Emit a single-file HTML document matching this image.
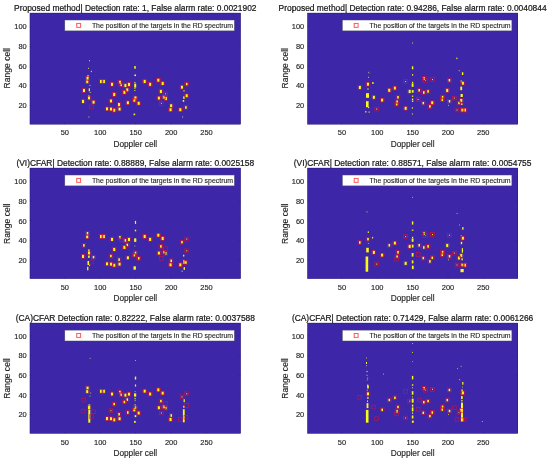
<!DOCTYPE html>
<html lang="en"><head><meta charset="utf-8"><title>RD spectrum detection comparison</title>
<style>html,body{margin:0;padding:0;background:#fff}svg{display:block}text{font-family:"Liberation Sans",Arial,sans-serif;fill:#262626}</style></head><body>
<svg width="550" height="461" viewBox="0 0 550 461">
<defs><filter id="b" x="-5%" y="-5%" width="110%" height="110%"><feGaussianBlur stdDeviation="0.35"/></filter></defs>
<rect width="550" height="461" fill="#fff"/>
<g>
<rect x="29.8" y="12.9" width="211.0" height="111.5" fill="#3e26a8"/>
<text x="135.3" y="10.6" font-size="8.42" text-anchor="middle" fill="#000" stroke="#000" stroke-width="0.2">Proposed method| Detection rate: 1, False alarm rate: 0.0021902</text>
<rect x="64.60" y="122.4" width="0.5" height="2" fill="#262626" opacity="0.55"/><rect x="64.60" y="12.9" width="0.5" height="2" fill="#262626" opacity="0.55"/>
<text x="64.8" y="135.4" font-size="7.45" text-anchor="middle" stroke="#262626" stroke-width="0.15">50</text>
<rect x="100.00" y="122.4" width="0.5" height="2" fill="#262626" opacity="0.55"/><rect x="100.00" y="12.9" width="0.5" height="2" fill="#262626" opacity="0.55"/>
<text x="100.3" y="135.4" font-size="7.45" text-anchor="middle" stroke="#262626" stroke-width="0.15">100</text>
<rect x="135.40" y="122.4" width="0.5" height="2" fill="#262626" opacity="0.55"/><rect x="135.40" y="12.9" width="0.5" height="2" fill="#262626" opacity="0.55"/>
<text x="135.7" y="135.4" font-size="7.45" text-anchor="middle" stroke="#262626" stroke-width="0.15">150</text>
<rect x="170.81" y="122.4" width="0.5" height="2" fill="#262626" opacity="0.55"/><rect x="170.81" y="12.9" width="0.5" height="2" fill="#262626" opacity="0.55"/>
<text x="171.1" y="135.4" font-size="7.45" text-anchor="middle" stroke="#262626" stroke-width="0.15">200</text>
<rect x="206.21" y="122.4" width="0.5" height="2" fill="#262626" opacity="0.55"/><rect x="206.21" y="12.9" width="0.5" height="2" fill="#262626" opacity="0.55"/>
<text x="206.5" y="135.4" font-size="7.45" text-anchor="middle" stroke="#262626" stroke-width="0.15">250</text>
<rect x="29.8" y="105.17" width="2" height="0.5" fill="#262626" opacity="0.55"/><rect x="238.8" y="105.17" width="2" height="0.5" fill="#262626" opacity="0.55"/>
<text x="26.7" y="108.1" font-size="7.45" text-anchor="end" stroke="#262626" stroke-width="0.15">20</text>
<rect x="29.8" y="85.49" width="2" height="0.5" fill="#262626" opacity="0.55"/><rect x="238.8" y="85.49" width="2" height="0.5" fill="#262626" opacity="0.55"/>
<text x="26.7" y="88.4" font-size="7.45" text-anchor="end" stroke="#262626" stroke-width="0.15">40</text>
<rect x="29.8" y="65.81" width="2" height="0.5" fill="#262626" opacity="0.55"/><rect x="238.8" y="65.81" width="2" height="0.5" fill="#262626" opacity="0.55"/>
<text x="26.7" y="68.8" font-size="7.45" text-anchor="end" stroke="#262626" stroke-width="0.15">60</text>
<rect x="29.8" y="46.13" width="2" height="0.5" fill="#262626" opacity="0.55"/><rect x="238.8" y="46.13" width="2" height="0.5" fill="#262626" opacity="0.55"/>
<text x="26.7" y="49.1" font-size="7.45" text-anchor="end" stroke="#262626" stroke-width="0.15">80</text>
<rect x="29.8" y="26.45" width="2" height="0.5" fill="#262626" opacity="0.55"/><rect x="238.8" y="26.45" width="2" height="0.5" fill="#262626" opacity="0.55"/>
<text x="26.7" y="29.4" font-size="7.45" text-anchor="end" stroke="#262626" stroke-width="0.15">100</text>
<text x="135.3" y="146.5" font-size="8.3" text-anchor="middle" stroke="#262626" stroke-width="0.15">Doppler cell</text>
<text transform="translate(10.2,68.2) rotate(-90)" font-size="8.55" text-anchor="middle" stroke="#262626" stroke-width="0.15">Range cell</text>
<g fill="#f9fb15" filter="url(#b)"><rect x="86.5" y="76.6" width="2.1" height="3.3"/><rect x="86.2" y="80.1" width="2.1" height="3.3"/><rect x="100.0" y="79.9" width="2.1" height="3.3"/><rect x="102.8" y="79.9" width="2.1" height="3.3"/><rect x="111.0" y="82.6" width="2.1" height="3.3"/><rect x="118.9" y="80.6" width="2.1" height="3.3"/><rect x="120.4" y="83.5" width="1.6" height="2.6"/><rect x="124.4" y="83.8" width="2.1" height="3.3"/><rect x="127.9" y="82.8" width="2.1" height="3.3"/><rect x="82.9" y="88.8" width="2.1" height="3.3"/><rect x="126.2" y="88.2" width="2.1" height="3.3"/><rect x="123.4" y="90.6" width="2.1" height="3.3"/><rect x="113.2" y="92.8" width="2.1" height="3.3"/><rect x="88.0" y="96.3" width="2.1" height="3.3"/><rect x="82.0" y="99.8" width="2.1" height="3.3"/><rect x="92.5" y="100.5" width="2.1" height="3.3"/><rect x="109.9" y="99.3" width="2.1" height="3.3"/><rect x="126.8" y="101.1" width="2.1" height="3.3"/><rect x="118.0" y="102.9" width="2.1" height="3.3"/><rect x="106.0" y="107.2" width="2.1" height="3.3"/><rect x="110.0" y="107.4" width="2.1" height="3.3"/><rect x="113.2" y="108.5" width="2.1" height="3.3"/><rect x="118.5" y="107.4" width="2.1" height="3.3"/><rect x="143.6" y="79.8" width="2.1" height="3.3"/><rect x="149.1" y="82.6" width="2.1" height="3.3"/><rect x="157.3" y="78.5" width="2.1" height="3.3"/><rect x="161.6" y="81.8" width="2.1" height="3.3"/><rect x="185.9" y="82.8" width="1.6" height="2.6"/><rect x="180.9" y="85.5" width="2.1" height="3.3"/><rect x="159.8" y="89.8" width="2.1" height="3.3"/><rect x="165.1" y="93.3" width="1.0" height="1.0"/><rect x="185.6" y="94.1" width="2.1" height="3.3"/><rect x="157.8" y="96.4" width="2.1" height="3.3"/><rect x="162.8" y="95.5" width="2.1" height="3.3"/><rect x="164.8" y="96.8" width="2.1" height="3.3"/><rect x="134.4" y="96.2" width="2.1" height="3.3"/><rect x="133.3" y="98.5" width="2.1" height="3.3"/><rect x="137.6" y="101.6" width="2.1" height="3.3"/><rect x="160.9" y="102.8" width="1.0" height="1.0"/><rect x="170.1" y="104.1" width="2.1" height="3.3"/><rect x="169.5" y="108.1" width="2.1" height="3.3"/><rect x="179.3" y="108.1" width="2.1" height="3.3"/><rect x="185.1" y="106.2" width="1.6" height="2.6"/><rect x="89.0" y="60.1" width="0.8" height="1.2"/><rect x="88.0" y="67.8" width="0.8" height="1.0"/><rect x="90.9" y="70.7" width="0.8" height="1.4"/><rect x="134.2" y="66.1" width="1.6" height="2.6"/><rect x="88.5" y="116.5" width="0.8" height="1.0"/><rect x="182.3" y="116.5" width="0.8" height="1.0"/><rect x="89.6" y="84.9" width="0.8" height="1.0"/><rect x="88.7" y="88.3" width="1.2" height="3.0"/><rect x="89.8" y="92.1" width="0.8" height="1.0"/><rect x="88.5" y="95.0" width="0.8" height="1.0"/><rect x="87.3" y="75.2" width="1.4" height="1.6"/><rect x="134.4" y="74.5" width="1.6" height="1.6"/><rect x="134.4" y="81.9" width="1.0" height="1.0"/><rect x="134.2" y="83.6" width="2.0" height="4.0"/><rect x="134.4" y="87.9" width="1.0" height="1.0"/><rect x="134.4" y="90.0" width="1.0" height="1.0"/><rect x="133.6" y="113.6" width="1.6" height="1.6"/><rect x="183.5" y="90.1" width="1.0" height="1.4"/><rect x="183.2" y="96.4" width="1.6" height="2.4"/><rect x="182.8" y="100.0" width="1.4" height="1.8"/></g>
<g fill="none" stroke="#e2102c" stroke-width="0.6" opacity="0.9"><rect x="85.6" y="76.4" width="3.8" height="3.8"/><rect x="85.3" y="79.9" width="3.8" height="3.8"/><rect x="99.2" y="79.7" width="3.8" height="3.8"/><rect x="101.9" y="79.7" width="3.8" height="3.8"/><rect x="110.1" y="82.4" width="3.8" height="3.8"/><rect x="118.0" y="80.4" width="3.8" height="3.8"/><rect x="119.3" y="82.9" width="3.8" height="3.8"/><rect x="123.5" y="83.5" width="3.8" height="3.8"/><rect x="127.0" y="82.5" width="3.8" height="3.8"/><rect x="82.0" y="88.5" width="3.8" height="3.8"/><rect x="125.4" y="88.0" width="3.8" height="3.8"/><rect x="122.5" y="90.4" width="3.8" height="3.8"/><rect x="112.3" y="92.5" width="3.8" height="3.8"/><rect x="87.2" y="96.1" width="3.8" height="3.8"/><rect x="81.2" y="99.5" width="3.8" height="3.8"/><rect x="91.6" y="100.3" width="3.8" height="3.8"/><rect x="109.0" y="99.1" width="3.8" height="3.8"/><rect x="125.9" y="100.9" width="3.8" height="3.8"/><rect x="117.2" y="102.7" width="3.8" height="3.8"/><rect x="89.6" y="105.1" width="3.8" height="3.8"/><rect x="105.2" y="107.0" width="3.8" height="3.8"/><rect x="109.2" y="107.2" width="3.8" height="3.8"/><rect x="112.3" y="108.3" width="3.8" height="3.8"/><rect x="117.7" y="107.2" width="3.8" height="3.8"/><rect x="142.8" y="79.5" width="3.8" height="3.8"/><rect x="148.3" y="82.4" width="3.8" height="3.8"/><rect x="156.5" y="78.3" width="3.8" height="3.8"/><rect x="160.8" y="81.5" width="3.8" height="3.8"/><rect x="184.8" y="82.2" width="3.8" height="3.8"/><rect x="180.1" y="85.3" width="3.8" height="3.8"/><rect x="159.0" y="89.5" width="3.8" height="3.8"/><rect x="163.7" y="91.9" width="3.8" height="3.8"/><rect x="184.8" y="93.9" width="3.8" height="3.8"/><rect x="157.0" y="96.2" width="3.8" height="3.8"/><rect x="161.9" y="95.3" width="3.8" height="3.8"/><rect x="163.9" y="96.5" width="3.8" height="3.8"/><rect x="133.6" y="96.0" width="3.8" height="3.8"/><rect x="132.5" y="98.3" width="3.8" height="3.8"/><rect x="136.8" y="101.4" width="3.8" height="3.8"/><rect x="159.5" y="101.4" width="3.8" height="3.8"/><rect x="169.3" y="103.9" width="3.8" height="3.8"/><rect x="168.7" y="107.9" width="3.8" height="3.8"/><rect x="178.5" y="107.9" width="3.8" height="3.8"/><rect x="184.0" y="105.6" width="3.8" height="3.8"/></g>
<rect x="30.0" y="13.1" width="210.6" height="111.1" fill="none" stroke="#1a1050" stroke-width="0.4" opacity="0.6"/>
<rect x="64.8" y="20.0" width="169.6" height="10.9" fill="#fff" stroke="#4a4a6a" stroke-width="0.5"/>
<rect x="76.70" y="23.45" width="3.9" height="3.9" fill="none" stroke="#ff5a5a" stroke-width="1.0"/>
<text x="91.9" y="28.1" font-size="6.93" fill="#000" stroke="#000" stroke-width="0.1">The position of the targets in the RD spectrum</text>
</g>
<g>
<rect x="307.3" y="12.9" width="210.7" height="111.5" fill="#3e26a8"/>
<text x="412.6" y="10.6" font-size="8.42" text-anchor="middle" fill="#000" stroke="#000" stroke-width="0.2">Proposed method| Detection rate: 0.94286, False alarm rate: 0.0040844</text>
<rect x="341.65" y="122.4" width="0.5" height="2" fill="#262626" opacity="0.55"/><rect x="341.65" y="12.9" width="0.5" height="2" fill="#262626" opacity="0.55"/>
<text x="341.9" y="135.4" font-size="7.45" text-anchor="middle" stroke="#262626" stroke-width="0.15">50</text>
<rect x="377.00" y="122.4" width="0.5" height="2" fill="#262626" opacity="0.55"/><rect x="377.00" y="12.9" width="0.5" height="2" fill="#262626" opacity="0.55"/>
<text x="377.3" y="135.4" font-size="7.45" text-anchor="middle" stroke="#262626" stroke-width="0.15">100</text>
<rect x="412.35" y="122.4" width="0.5" height="2" fill="#262626" opacity="0.55"/><rect x="412.35" y="12.9" width="0.5" height="2" fill="#262626" opacity="0.55"/>
<text x="412.6" y="135.4" font-size="7.45" text-anchor="middle" stroke="#262626" stroke-width="0.15">150</text>
<rect x="447.71" y="122.4" width="0.5" height="2" fill="#262626" opacity="0.55"/><rect x="447.71" y="12.9" width="0.5" height="2" fill="#262626" opacity="0.55"/>
<text x="448.0" y="135.4" font-size="7.45" text-anchor="middle" stroke="#262626" stroke-width="0.15">200</text>
<rect x="483.06" y="122.4" width="0.5" height="2" fill="#262626" opacity="0.55"/><rect x="483.06" y="12.9" width="0.5" height="2" fill="#262626" opacity="0.55"/>
<text x="483.3" y="135.4" font-size="7.45" text-anchor="middle" stroke="#262626" stroke-width="0.15">250</text>
<rect x="307.3" y="105.17" width="2" height="0.5" fill="#262626" opacity="0.55"/><rect x="516.0" y="105.17" width="2" height="0.5" fill="#262626" opacity="0.55"/>
<text x="304.2" y="108.1" font-size="7.45" text-anchor="end" stroke="#262626" stroke-width="0.15">20</text>
<rect x="307.3" y="85.49" width="2" height="0.5" fill="#262626" opacity="0.55"/><rect x="516.0" y="85.49" width="2" height="0.5" fill="#262626" opacity="0.55"/>
<text x="304.2" y="88.4" font-size="7.45" text-anchor="end" stroke="#262626" stroke-width="0.15">40</text>
<rect x="307.3" y="65.81" width="2" height="0.5" fill="#262626" opacity="0.55"/><rect x="516.0" y="65.81" width="2" height="0.5" fill="#262626" opacity="0.55"/>
<text x="304.2" y="68.8" font-size="7.45" text-anchor="end" stroke="#262626" stroke-width="0.15">60</text>
<rect x="307.3" y="46.13" width="2" height="0.5" fill="#262626" opacity="0.55"/><rect x="516.0" y="46.13" width="2" height="0.5" fill="#262626" opacity="0.55"/>
<text x="304.2" y="49.1" font-size="7.45" text-anchor="end" stroke="#262626" stroke-width="0.15">80</text>
<rect x="307.3" y="26.45" width="2" height="0.5" fill="#262626" opacity="0.55"/><rect x="516.0" y="26.45" width="2" height="0.5" fill="#262626" opacity="0.55"/>
<text x="304.2" y="29.4" font-size="7.45" text-anchor="end" stroke="#262626" stroke-width="0.15">100</text>
<text x="412.6" y="146.5" font-size="8.3" text-anchor="middle" stroke="#262626" stroke-width="0.15">Doppler cell</text>
<text transform="translate(287.7,68.2) rotate(-90)" font-size="8.55" text-anchor="middle" stroke="#262626" stroke-width="0.15">Range cell</text>
<g fill="#f9fb15" filter="url(#b)"><rect x="358.8" y="85.8" width="2.1" height="3.3"/><rect x="366.9" y="82.5" width="2.1" height="3.3"/><rect x="372.8" y="95.6" width="2.1" height="3.3"/><rect x="381.1" y="98.4" width="2.1" height="3.3"/><rect x="376.2" y="108.6" width="1.0" height="1.0"/><rect x="388.2" y="88.6" width="2.1" height="3.3"/><rect x="393.8" y="86.4" width="2.1" height="3.3"/><rect x="405.1" y="81.1" width="1.0" height="1.0"/><rect x="397.2" y="96.0" width="1.6" height="2.6"/><rect x="396.3" y="100.4" width="1.6" height="2.6"/><rect x="395.9" y="102.9" width="1.6" height="2.6"/><rect x="404.6" y="106.6" width="2.1" height="3.3"/><rect x="408.6" y="89.8" width="2.1" height="3.3"/><rect x="423.3" y="77.2" width="1.6" height="2.6"/><rect x="425.0" y="80.0" width="1.0" height="1.0"/><rect x="432.0" y="79.1" width="1.0" height="1.0"/><rect x="448.6" y="79.0" width="1.6" height="2.6"/><rect x="418.4" y="89.0" width="1.6" height="2.6"/><rect x="423.0" y="91.2" width="1.6" height="2.6"/><rect x="427.3" y="90.1" width="1.6" height="2.6"/><rect x="446.2" y="88.8" width="2.1" height="3.3"/><rect x="417.6" y="99.0" width="1.0" height="1.0"/><rect x="422.5" y="101.8" width="1.6" height="2.6"/><rect x="431.2" y="101.1" width="2.1" height="3.3"/><rect x="429.1" y="105.1" width="1.6" height="2.6"/><rect x="441.8" y="95.8" width="1.6" height="2.6"/><rect x="441.5" y="98.5" width="1.6" height="2.6"/><rect x="448.7" y="100.0" width="1.6" height="2.6"/><rect x="453.8" y="97.6" width="1.0" height="1.0"/><rect x="458.2" y="101.7" width="1.6" height="2.6"/><rect x="460.2" y="98.9" width="2.1" height="3.3"/><rect x="456.5" y="109.5" width="1.0" height="1.0"/><rect x="461.4" y="108.4" width="2.1" height="3.3"/><rect x="463.9" y="108.4" width="2.1" height="3.3"/><rect x="461.8" y="81.5" width="2.1" height="3.3"/><rect x="412.2" y="42.5" width="0.8" height="1.0"/><rect x="456.4" y="57.6" width="1.0" height="1.6"/><rect x="411.9" y="66.3" width="1.4" height="3.0"/><rect x="412.0" y="74.2" width="1.2" height="1.4"/><rect x="368.6" y="71.8" width="0.6" height="1.6"/><rect x="458.8" y="70.2" width="0.8" height="1.0"/><rect x="368.0" y="76.8" width="0.8" height="1.0"/><rect x="372.1" y="82.2" width="1.6" height="1.6"/><rect x="367.5" y="88.3" width="1.0" height="1.4"/><rect x="366.0" y="93.2" width="3.0" height="4.6"/><rect x="366.0" y="101.2" width="2.6" height="6.0"/><rect x="368.0" y="106.9" width="1.2" height="1.2"/><rect x="365.2" y="111.1" width="1.2" height="1.4"/><rect x="368.6" y="111.5" width="1.0" height="1.2"/><rect x="412.0" y="81.8" width="1.2" height="1.2"/><rect x="411.7" y="83.3" width="1.8" height="3.6"/><rect x="411.6" y="90.1" width="2.0" height="2.6"/><rect x="411.9" y="95.6" width="1.4" height="1.2"/><rect x="411.9" y="98.6" width="1.4" height="1.4"/><rect x="411.9" y="100.5" width="1.4" height="1.4"/><rect x="411.8" y="107.4" width="1.2" height="1.2"/><rect x="411.9" y="113.5" width="1.0" height="1.0"/><rect x="461.9" y="72.2" width="1.4" height="2.8"/><rect x="460.6" y="80.4" width="1.2" height="1.8"/><rect x="460.3" y="86.6" width="1.8" height="3.6"/><rect x="460.6" y="94.0" width="2.2" height="3.0"/><rect x="460.9" y="103.4" width="1.6" height="1.6"/><rect x="448.2" y="104.9" width="0.8" height="0.8"/></g>
<g fill="none" stroke="#e2102c" stroke-width="0.6" opacity="0.9"><rect x="357.9" y="85.6" width="3.8" height="3.8"/><rect x="366.1" y="82.3" width="3.8" height="3.8"/><rect x="371.9" y="95.4" width="3.8" height="3.8"/><rect x="380.3" y="98.2" width="3.8" height="3.8"/><rect x="374.8" y="107.2" width="3.8" height="3.8"/><rect x="387.4" y="88.4" width="3.8" height="3.8"/><rect x="393.0" y="86.2" width="3.8" height="3.8"/><rect x="403.7" y="79.7" width="3.8" height="3.8"/><rect x="396.1" y="95.4" width="3.8" height="3.8"/><rect x="395.2" y="99.8" width="3.8" height="3.8"/><rect x="394.8" y="102.3" width="3.8" height="3.8"/><rect x="403.7" y="106.4" width="3.8" height="3.8"/><rect x="407.8" y="89.5" width="3.8" height="3.8"/><rect x="422.2" y="76.6" width="3.8" height="3.8"/><rect x="423.6" y="78.6" width="3.8" height="3.8"/><rect x="430.6" y="77.7" width="3.8" height="3.8"/><rect x="447.5" y="78.4" width="3.8" height="3.8"/><rect x="417.3" y="88.4" width="3.8" height="3.8"/><rect x="421.9" y="90.6" width="3.8" height="3.8"/><rect x="426.2" y="89.5" width="3.8" height="3.8"/><rect x="445.4" y="88.5" width="3.8" height="3.8"/><rect x="416.2" y="97.6" width="3.8" height="3.8"/><rect x="421.4" y="101.2" width="3.8" height="3.8"/><rect x="430.4" y="100.9" width="3.8" height="3.8"/><rect x="428.0" y="104.5" width="3.8" height="3.8"/><rect x="440.7" y="95.2" width="3.8" height="3.8"/><rect x="440.4" y="97.9" width="3.8" height="3.8"/><rect x="447.6" y="99.4" width="3.8" height="3.8"/><rect x="452.4" y="96.2" width="3.8" height="3.8"/><rect x="457.1" y="101.1" width="3.8" height="3.8"/><rect x="459.4" y="98.7" width="3.8" height="3.8"/><rect x="455.1" y="108.1" width="3.8" height="3.8"/><rect x="460.6" y="108.2" width="3.8" height="3.8"/><rect x="463.1" y="108.2" width="3.8" height="3.8"/><rect x="460.9" y="81.3" width="3.8" height="3.8"/></g>
<rect x="307.5" y="13.1" width="210.3" height="111.1" fill="none" stroke="#1a1050" stroke-width="0.4" opacity="0.6"/>
<rect x="342.3" y="20.0" width="169.6" height="10.9" fill="#fff" stroke="#4a4a6a" stroke-width="0.5"/>
<rect x="354.20" y="23.45" width="3.9" height="3.9" fill="none" stroke="#ff5a5a" stroke-width="1.0"/>
<text x="369.4" y="28.1" font-size="6.93" fill="#000" stroke="#000" stroke-width="0.1">The position of the targets in the RD spectrum</text>
</g>
<g>
<rect x="29.8" y="167.9" width="211.0" height="110.9" fill="#3e26a8"/>
<text x="135.3" y="165.6" font-size="8.42" text-anchor="middle" fill="#000" stroke="#000" stroke-width="0.2">(VI)CFAR| Detection rate: 0.88889, False alarm rate: 0.0025158</text>
<rect x="64.60" y="276.8" width="0.5" height="2" fill="#262626" opacity="0.55"/><rect x="64.60" y="167.9" width="0.5" height="2" fill="#262626" opacity="0.55"/>
<text x="64.8" y="289.8" font-size="7.45" text-anchor="middle" stroke="#262626" stroke-width="0.15">50</text>
<rect x="100.00" y="276.8" width="0.5" height="2" fill="#262626" opacity="0.55"/><rect x="100.00" y="167.9" width="0.5" height="2" fill="#262626" opacity="0.55"/>
<text x="100.3" y="289.8" font-size="7.45" text-anchor="middle" stroke="#262626" stroke-width="0.15">100</text>
<rect x="135.40" y="276.8" width="0.5" height="2" fill="#262626" opacity="0.55"/><rect x="135.40" y="167.9" width="0.5" height="2" fill="#262626" opacity="0.55"/>
<text x="135.7" y="289.8" font-size="7.45" text-anchor="middle" stroke="#262626" stroke-width="0.15">150</text>
<rect x="170.81" y="276.8" width="0.5" height="2" fill="#262626" opacity="0.55"/><rect x="170.81" y="167.9" width="0.5" height="2" fill="#262626" opacity="0.55"/>
<text x="171.1" y="289.8" font-size="7.45" text-anchor="middle" stroke="#262626" stroke-width="0.15">200</text>
<rect x="206.21" y="276.8" width="0.5" height="2" fill="#262626" opacity="0.55"/><rect x="206.21" y="167.9" width="0.5" height="2" fill="#262626" opacity="0.55"/>
<text x="206.5" y="289.8" font-size="7.45" text-anchor="middle" stroke="#262626" stroke-width="0.15">250</text>
<rect x="29.8" y="259.87" width="2" height="0.5" fill="#262626" opacity="0.55"/><rect x="238.8" y="259.87" width="2" height="0.5" fill="#262626" opacity="0.55"/>
<text x="26.7" y="262.8" font-size="7.45" text-anchor="end" stroke="#262626" stroke-width="0.15">20</text>
<rect x="29.8" y="240.19" width="2" height="0.5" fill="#262626" opacity="0.55"/><rect x="238.8" y="240.19" width="2" height="0.5" fill="#262626" opacity="0.55"/>
<text x="26.7" y="243.1" font-size="7.45" text-anchor="end" stroke="#262626" stroke-width="0.15">40</text>
<rect x="29.8" y="220.51" width="2" height="0.5" fill="#262626" opacity="0.55"/><rect x="238.8" y="220.51" width="2" height="0.5" fill="#262626" opacity="0.55"/>
<text x="26.7" y="223.5" font-size="7.45" text-anchor="end" stroke="#262626" stroke-width="0.15">60</text>
<rect x="29.8" y="200.83" width="2" height="0.5" fill="#262626" opacity="0.55"/><rect x="238.8" y="200.83" width="2" height="0.5" fill="#262626" opacity="0.55"/>
<text x="26.7" y="203.8" font-size="7.45" text-anchor="end" stroke="#262626" stroke-width="0.15">80</text>
<rect x="29.8" y="181.15" width="2" height="0.5" fill="#262626" opacity="0.55"/><rect x="238.8" y="181.15" width="2" height="0.5" fill="#262626" opacity="0.55"/>
<text x="26.7" y="184.1" font-size="7.45" text-anchor="end" stroke="#262626" stroke-width="0.15">100</text>
<text x="135.3" y="300.9" font-size="8.3" text-anchor="middle" stroke="#262626" stroke-width="0.15">Doppler cell</text>
<text transform="translate(10.2,223.7) rotate(-90)" font-size="8.55" text-anchor="middle" stroke="#262626" stroke-width="0.15">Range cell</text>
<g fill="#f9fb15" filter="url(#b)"><rect x="86.7" y="232.0" width="1.6" height="2.6"/><rect x="86.2" y="235.2" width="2.1" height="3.3"/><rect x="100.0" y="234.9" width="2.1" height="3.3"/><rect x="102.8" y="234.9" width="2.1" height="3.3"/><rect x="111.0" y="237.7" width="2.1" height="3.3"/><rect x="119.1" y="236.0" width="1.6" height="2.6"/><rect x="124.6" y="239.1" width="1.6" height="2.6"/><rect x="127.9" y="237.8" width="2.1" height="3.3"/><rect x="83.1" y="244.1" width="1.6" height="2.6"/><rect x="126.5" y="243.6" width="1.6" height="2.6"/><rect x="123.4" y="245.7" width="2.1" height="3.3"/><rect x="113.2" y="247.8" width="2.1" height="3.3"/><rect x="88.0" y="251.3" width="2.1" height="3.3"/><rect x="82.0" y="254.7" width="2.1" height="3.3"/><rect x="92.7" y="255.9" width="1.6" height="2.6"/><rect x="110.1" y="254.7" width="1.6" height="2.6"/><rect x="126.8" y="256.2" width="2.1" height="3.3"/><rect x="118.3" y="258.3" width="1.6" height="2.6"/><rect x="106.0" y="262.2" width="2.1" height="3.3"/><rect x="110.0" y="262.5" width="2.1" height="3.3"/><rect x="113.2" y="263.6" width="2.1" height="3.3"/><rect x="118.5" y="262.5" width="2.1" height="3.3"/><rect x="143.6" y="234.8" width="2.1" height="3.3"/><rect x="149.1" y="237.7" width="2.1" height="3.3"/><rect x="157.3" y="233.5" width="2.1" height="3.3"/><rect x="161.6" y="236.8" width="2.1" height="3.3"/><rect x="186.2" y="238.6" width="1.0" height="1.0"/><rect x="181.2" y="240.9" width="1.6" height="2.6"/><rect x="160.1" y="245.1" width="1.6" height="2.6"/><rect x="186.2" y="250.3" width="1.0" height="1.0"/><rect x="157.8" y="251.4" width="2.1" height="3.3"/><rect x="163.0" y="250.9" width="1.6" height="2.6"/><rect x="165.0" y="252.1" width="1.6" height="2.6"/><rect x="134.7" y="251.6" width="1.6" height="2.6"/><rect x="133.6" y="253.9" width="1.6" height="2.6"/><rect x="137.9" y="257.0" width="1.6" height="2.6"/><rect x="170.4" y="259.5" width="1.6" height="2.6"/><rect x="169.5" y="263.2" width="2.1" height="3.3"/><rect x="179.3" y="263.2" width="2.1" height="3.3"/><rect x="185.1" y="261.2" width="1.6" height="2.6"/><rect x="88.1" y="249.5" width="1.6" height="2.0"/><rect x="88.1" y="255.5" width="1.6" height="2.4"/><rect x="87.5" y="261.0" width="1.5" height="4.0"/><rect x="89.1" y="264.5" width="1.0" height="1.4"/><rect x="87.1" y="266.8" width="1.3" height="3.5"/><rect x="134.9" y="220.9" width="1.2" height="3.0"/><rect x="134.8" y="229.7" width="1.4" height="1.6"/><rect x="134.1" y="238.3" width="2.2" height="3.6"/><rect x="134.5" y="245.6" width="0.8" height="0.8"/><rect x="133.5" y="266.3" width="2.4" height="3.4"/><rect x="183.1" y="254.7" width="1.2" height="1.8"/><rect x="183.2" y="259.9" width="1.6" height="4.0"/><rect x="183.6" y="267.2" width="1.4" height="2.6"/><rect x="181.6" y="270.7" width="1.0" height="1.0"/></g>
<g fill="none" stroke="#e2102c" stroke-width="0.6" opacity="0.9"><rect x="85.6" y="231.4" width="3.8" height="3.8"/><rect x="85.3" y="234.9" width="3.8" height="3.8"/><rect x="99.2" y="234.7" width="3.8" height="3.8"/><rect x="101.9" y="234.7" width="3.8" height="3.8"/><rect x="110.1" y="237.4" width="3.8" height="3.8"/><rect x="118.0" y="235.4" width="3.8" height="3.8"/><rect x="119.3" y="237.9" width="3.8" height="3.8"/><rect x="123.5" y="238.5" width="3.8" height="3.8"/><rect x="127.0" y="237.5" width="3.8" height="3.8"/><rect x="82.0" y="243.5" width="3.8" height="3.8"/><rect x="125.4" y="243.0" width="3.8" height="3.8"/><rect x="122.5" y="245.4" width="3.8" height="3.8"/><rect x="112.3" y="247.5" width="3.8" height="3.8"/><rect x="87.2" y="251.1" width="3.8" height="3.8"/><rect x="81.2" y="254.5" width="3.8" height="3.8"/><rect x="91.6" y="255.3" width="3.8" height="3.8"/><rect x="109.0" y="254.1" width="3.8" height="3.8"/><rect x="125.9" y="255.9" width="3.8" height="3.8"/><rect x="117.2" y="257.7" width="3.8" height="3.8"/><rect x="89.6" y="260.1" width="3.8" height="3.8"/><rect x="105.2" y="262.0" width="3.8" height="3.8"/><rect x="109.2" y="262.2" width="3.8" height="3.8"/><rect x="112.3" y="263.3" width="3.8" height="3.8"/><rect x="117.7" y="262.2" width="3.8" height="3.8"/><rect x="142.8" y="234.5" width="3.8" height="3.8"/><rect x="148.3" y="237.4" width="3.8" height="3.8"/><rect x="156.5" y="233.3" width="3.8" height="3.8"/><rect x="160.8" y="236.5" width="3.8" height="3.8"/><rect x="184.8" y="237.2" width="3.8" height="3.8"/><rect x="180.1" y="240.3" width="3.8" height="3.8"/><rect x="159.0" y="244.5" width="3.8" height="3.8"/><rect x="163.7" y="246.9" width="3.8" height="3.8"/><rect x="184.8" y="248.9" width="3.8" height="3.8"/><rect x="157.0" y="251.2" width="3.8" height="3.8"/><rect x="161.9" y="250.3" width="3.8" height="3.8"/><rect x="163.9" y="251.5" width="3.8" height="3.8"/><rect x="133.6" y="251.0" width="3.8" height="3.8"/><rect x="132.5" y="253.3" width="3.8" height="3.8"/><rect x="136.8" y="256.4" width="3.8" height="3.8"/><rect x="159.5" y="256.4" width="3.8" height="3.8"/><rect x="169.3" y="258.9" width="3.8" height="3.8"/><rect x="168.7" y="262.9" width="3.8" height="3.8"/><rect x="178.5" y="262.9" width="3.8" height="3.8"/><rect x="184.0" y="260.6" width="3.8" height="3.8"/></g>
<rect x="30.0" y="168.1" width="210.6" height="110.5" fill="none" stroke="#1a1050" stroke-width="0.4" opacity="0.6"/>
<rect x="64.8" y="175.0" width="169.6" height="10.9" fill="#fff" stroke="#4a4a6a" stroke-width="0.5"/>
<rect x="76.70" y="178.45" width="3.9" height="3.9" fill="none" stroke="#ff5a5a" stroke-width="1.0"/>
<text x="91.9" y="183.1" font-size="6.93" fill="#000" stroke="#000" stroke-width="0.1">The position of the targets in the RD spectrum</text>
</g>
<g>
<rect x="307.3" y="167.9" width="210.7" height="110.9" fill="#3e26a8"/>
<text x="412.6" y="165.6" font-size="8.42" text-anchor="middle" fill="#000" stroke="#000" stroke-width="0.2">(VI)CFAR| Detection rate: 0.88571, False alarm rate: 0.0054755</text>
<rect x="341.65" y="276.8" width="0.5" height="2" fill="#262626" opacity="0.55"/><rect x="341.65" y="167.9" width="0.5" height="2" fill="#262626" opacity="0.55"/>
<text x="341.9" y="289.8" font-size="7.45" text-anchor="middle" stroke="#262626" stroke-width="0.15">50</text>
<rect x="377.00" y="276.8" width="0.5" height="2" fill="#262626" opacity="0.55"/><rect x="377.00" y="167.9" width="0.5" height="2" fill="#262626" opacity="0.55"/>
<text x="377.3" y="289.8" font-size="7.45" text-anchor="middle" stroke="#262626" stroke-width="0.15">100</text>
<rect x="412.35" y="276.8" width="0.5" height="2" fill="#262626" opacity="0.55"/><rect x="412.35" y="167.9" width="0.5" height="2" fill="#262626" opacity="0.55"/>
<text x="412.6" y="289.8" font-size="7.45" text-anchor="middle" stroke="#262626" stroke-width="0.15">150</text>
<rect x="447.71" y="276.8" width="0.5" height="2" fill="#262626" opacity="0.55"/><rect x="447.71" y="167.9" width="0.5" height="2" fill="#262626" opacity="0.55"/>
<text x="448.0" y="289.8" font-size="7.45" text-anchor="middle" stroke="#262626" stroke-width="0.15">200</text>
<rect x="483.06" y="276.8" width="0.5" height="2" fill="#262626" opacity="0.55"/><rect x="483.06" y="167.9" width="0.5" height="2" fill="#262626" opacity="0.55"/>
<text x="483.3" y="289.8" font-size="7.45" text-anchor="middle" stroke="#262626" stroke-width="0.15">250</text>
<rect x="307.3" y="259.87" width="2" height="0.5" fill="#262626" opacity="0.55"/><rect x="516.0" y="259.87" width="2" height="0.5" fill="#262626" opacity="0.55"/>
<text x="304.2" y="262.8" font-size="7.45" text-anchor="end" stroke="#262626" stroke-width="0.15">20</text>
<rect x="307.3" y="240.19" width="2" height="0.5" fill="#262626" opacity="0.55"/><rect x="516.0" y="240.19" width="2" height="0.5" fill="#262626" opacity="0.55"/>
<text x="304.2" y="243.1" font-size="7.45" text-anchor="end" stroke="#262626" stroke-width="0.15">40</text>
<rect x="307.3" y="220.51" width="2" height="0.5" fill="#262626" opacity="0.55"/><rect x="516.0" y="220.51" width="2" height="0.5" fill="#262626" opacity="0.55"/>
<text x="304.2" y="223.5" font-size="7.45" text-anchor="end" stroke="#262626" stroke-width="0.15">60</text>
<rect x="307.3" y="200.83" width="2" height="0.5" fill="#262626" opacity="0.55"/><rect x="516.0" y="200.83" width="2" height="0.5" fill="#262626" opacity="0.55"/>
<text x="304.2" y="203.8" font-size="7.45" text-anchor="end" stroke="#262626" stroke-width="0.15">80</text>
<rect x="307.3" y="181.15" width="2" height="0.5" fill="#262626" opacity="0.55"/><rect x="516.0" y="181.15" width="2" height="0.5" fill="#262626" opacity="0.55"/>
<text x="304.2" y="184.1" font-size="7.45" text-anchor="end" stroke="#262626" stroke-width="0.15">100</text>
<text x="412.6" y="300.9" font-size="8.3" text-anchor="middle" stroke="#262626" stroke-width="0.15">Doppler cell</text>
<text transform="translate(287.7,223.7) rotate(-90)" font-size="8.55" text-anchor="middle" stroke="#262626" stroke-width="0.15">Range cell</text>
<g fill="#f9fb15" filter="url(#b)"><rect x="359.0" y="241.2" width="1.6" height="2.6"/><rect x="367.2" y="237.9" width="1.6" height="2.6"/><rect x="372.8" y="250.7" width="2.1" height="3.3"/><rect x="381.1" y="253.4" width="2.1" height="3.3"/><rect x="376.2" y="263.6" width="1.0" height="1.0"/><rect x="388.5" y="244.0" width="1.6" height="2.6"/><rect x="393.8" y="241.4" width="2.1" height="3.3"/><rect x="405.1" y="236.1" width="1.0" height="1.0"/><rect x="397.2" y="251.0" width="1.6" height="2.6"/><rect x="396.3" y="255.4" width="1.6" height="2.6"/><rect x="404.6" y="261.7" width="2.1" height="3.3"/><rect x="408.6" y="244.8" width="2.1" height="3.3"/><rect x="423.3" y="232.2" width="1.6" height="2.6"/><rect x="425.0" y="235.0" width="1.0" height="1.0"/><rect x="432.0" y="234.1" width="1.0" height="1.0"/><rect x="448.9" y="234.8" width="1.0" height="1.0"/><rect x="418.4" y="244.0" width="1.6" height="2.6"/><rect x="423.0" y="246.2" width="1.6" height="2.6"/><rect x="427.3" y="245.1" width="1.6" height="2.6"/><rect x="446.2" y="243.8" width="2.1" height="3.3"/><rect x="422.5" y="256.8" width="1.6" height="2.6"/><rect x="431.5" y="256.5" width="1.6" height="2.6"/><rect x="429.1" y="260.1" width="1.6" height="2.6"/><rect x="441.8" y="250.8" width="1.6" height="2.6"/><rect x="441.5" y="253.5" width="1.6" height="2.6"/><rect x="448.7" y="255.0" width="1.6" height="2.6"/><rect x="453.8" y="252.6" width="1.0" height="1.0"/><rect x="457.9" y="256.4" width="2.1" height="3.3"/><rect x="460.2" y="253.9" width="2.1" height="3.3"/><rect x="456.5" y="264.5" width="1.0" height="1.0"/><rect x="461.7" y="263.8" width="1.6" height="2.6"/><rect x="463.9" y="263.5" width="2.1" height="3.3"/><rect x="461.8" y="236.5" width="2.1" height="3.3"/><rect x="367.7" y="231.6" width="1.2" height="1.2"/><rect x="372.1" y="236.9" width="1.0" height="1.6"/><rect x="367.9" y="243.0" width="0.8" height="0.8"/><rect x="366.2" y="247.8" width="2.6" height="4.6"/><rect x="365.6" y="256.5" width="2.6" height="15.200000000000003"/><rect x="404.4" y="184.8" width="0.8" height="0.8"/><rect x="412.2" y="196.9" width="0.8" height="0.8"/><rect x="366.6" y="211.4" width="0.8" height="1.0"/><rect x="456.7" y="213.2" width="0.8" height="0.8"/><rect x="411.9" y="221.4" width="1.4" height="3.2"/><rect x="411.8" y="229.6" width="1.6" height="1.2"/><rect x="459.0" y="224.6" width="0.8" height="0.8"/><rect x="368.0" y="231.6" width="0.8" height="0.8"/><rect x="412.0" y="236.8" width="1.2" height="1.2"/><rect x="411.7" y="238.4" width="1.8" height="3.4"/><rect x="411.7" y="244.6" width="1.8" height="3.0"/><rect x="411.7" y="253.0" width="1.8" height="3.6"/><rect x="411.8" y="260.4" width="1.6" height="3.0"/><rect x="411.9" y="265.7" width="1.8" height="3.4"/><rect x="462.2" y="227.1" width="1.3" height="2.6"/><rect x="460.7" y="235.2" width="0.8" height="0.8"/><rect x="460.8" y="241.8" width="1.4" height="2.4"/><rect x="461.8" y="248.2" width="1.2" height="4.5"/><rect x="461.4" y="258.3" width="1.4" height="2.0"/><rect x="461.5" y="263.2" width="1.2" height="2.5"/><rect x="460.5" y="269.0" width="3.2" height="3.2"/><rect x="448.1" y="259.5" width="0.8" height="0.8"/></g>
<g fill="none" stroke="#e2102c" stroke-width="0.6" opacity="0.9"><rect x="357.9" y="240.6" width="3.8" height="3.8"/><rect x="366.1" y="237.3" width="3.8" height="3.8"/><rect x="371.9" y="250.4" width="3.8" height="3.8"/><rect x="380.3" y="253.2" width="3.8" height="3.8"/><rect x="374.8" y="262.2" width="3.8" height="3.8"/><rect x="387.4" y="243.4" width="3.8" height="3.8"/><rect x="393.0" y="241.2" width="3.8" height="3.8"/><rect x="403.7" y="234.7" width="3.8" height="3.8"/><rect x="396.1" y="250.4" width="3.8" height="3.8"/><rect x="395.2" y="254.8" width="3.8" height="3.8"/><rect x="394.8" y="257.3" width="3.8" height="3.8"/><rect x="403.7" y="261.4" width="3.8" height="3.8"/><rect x="407.8" y="244.5" width="3.8" height="3.8"/><rect x="422.2" y="231.6" width="3.8" height="3.8"/><rect x="423.6" y="233.6" width="3.8" height="3.8"/><rect x="430.6" y="232.7" width="3.8" height="3.8"/><rect x="447.5" y="233.4" width="3.8" height="3.8"/><rect x="417.3" y="243.4" width="3.8" height="3.8"/><rect x="421.9" y="245.6" width="3.8" height="3.8"/><rect x="426.2" y="244.5" width="3.8" height="3.8"/><rect x="445.4" y="243.5" width="3.8" height="3.8"/><rect x="416.2" y="252.6" width="3.8" height="3.8"/><rect x="421.4" y="256.2" width="3.8" height="3.8"/><rect x="430.4" y="255.9" width="3.8" height="3.8"/><rect x="428.0" y="259.5" width="3.8" height="3.8"/><rect x="440.7" y="250.2" width="3.8" height="3.8"/><rect x="440.4" y="252.9" width="3.8" height="3.8"/><rect x="447.6" y="254.4" width="3.8" height="3.8"/><rect x="452.4" y="251.2" width="3.8" height="3.8"/><rect x="457.1" y="256.1" width="3.8" height="3.8"/><rect x="459.4" y="253.7" width="3.8" height="3.8"/><rect x="455.1" y="263.1" width="3.8" height="3.8"/><rect x="460.6" y="263.2" width="3.8" height="3.8"/><rect x="463.1" y="263.2" width="3.8" height="3.8"/><rect x="460.9" y="236.3" width="3.8" height="3.8"/></g>
<rect x="307.5" y="168.1" width="210.3" height="110.5" fill="none" stroke="#1a1050" stroke-width="0.4" opacity="0.6"/>
<rect x="342.3" y="175.0" width="169.6" height="10.9" fill="#fff" stroke="#4a4a6a" stroke-width="0.5"/>
<rect x="354.20" y="178.45" width="3.9" height="3.9" fill="none" stroke="#ff5a5a" stroke-width="1.0"/>
<text x="369.4" y="183.1" font-size="6.93" fill="#000" stroke="#000" stroke-width="0.1">The position of the targets in the RD spectrum</text>
</g>
<g>
<rect x="29.8" y="322.9" width="211.0" height="110.7" fill="#3e26a8"/>
<text x="135.3" y="320.6" font-size="8.42" text-anchor="middle" fill="#000" stroke="#000" stroke-width="0.2">(CA)CFAR Detection rate: 0.82222, False alarm rate: 0.0037588</text>
<rect x="64.60" y="431.6" width="0.5" height="2" fill="#262626" opacity="0.55"/><rect x="64.60" y="322.9" width="0.5" height="2" fill="#262626" opacity="0.55"/>
<text x="64.8" y="444.6" font-size="7.45" text-anchor="middle" stroke="#262626" stroke-width="0.15">50</text>
<rect x="100.00" y="431.6" width="0.5" height="2" fill="#262626" opacity="0.55"/><rect x="100.00" y="322.9" width="0.5" height="2" fill="#262626" opacity="0.55"/>
<text x="100.3" y="444.6" font-size="7.45" text-anchor="middle" stroke="#262626" stroke-width="0.15">100</text>
<rect x="135.40" y="431.6" width="0.5" height="2" fill="#262626" opacity="0.55"/><rect x="135.40" y="322.9" width="0.5" height="2" fill="#262626" opacity="0.55"/>
<text x="135.7" y="444.6" font-size="7.45" text-anchor="middle" stroke="#262626" stroke-width="0.15">150</text>
<rect x="170.81" y="431.6" width="0.5" height="2" fill="#262626" opacity="0.55"/><rect x="170.81" y="322.9" width="0.5" height="2" fill="#262626" opacity="0.55"/>
<text x="171.1" y="444.6" font-size="7.45" text-anchor="middle" stroke="#262626" stroke-width="0.15">200</text>
<rect x="206.21" y="431.6" width="0.5" height="2" fill="#262626" opacity="0.55"/><rect x="206.21" y="322.9" width="0.5" height="2" fill="#262626" opacity="0.55"/>
<text x="206.5" y="444.6" font-size="7.45" text-anchor="middle" stroke="#262626" stroke-width="0.15">250</text>
<rect x="29.8" y="414.42" width="2" height="0.5" fill="#262626" opacity="0.55"/><rect x="238.8" y="414.42" width="2" height="0.5" fill="#262626" opacity="0.55"/>
<text x="26.7" y="417.4" font-size="7.45" text-anchor="end" stroke="#262626" stroke-width="0.15">20</text>
<rect x="29.8" y="394.74" width="2" height="0.5" fill="#262626" opacity="0.55"/><rect x="238.8" y="394.74" width="2" height="0.5" fill="#262626" opacity="0.55"/>
<text x="26.7" y="397.7" font-size="7.45" text-anchor="end" stroke="#262626" stroke-width="0.15">40</text>
<rect x="29.8" y="375.06" width="2" height="0.5" fill="#262626" opacity="0.55"/><rect x="238.8" y="375.06" width="2" height="0.5" fill="#262626" opacity="0.55"/>
<text x="26.7" y="378.0" font-size="7.45" text-anchor="end" stroke="#262626" stroke-width="0.15">60</text>
<rect x="29.8" y="355.38" width="2" height="0.5" fill="#262626" opacity="0.55"/><rect x="238.8" y="355.38" width="2" height="0.5" fill="#262626" opacity="0.55"/>
<text x="26.7" y="358.3" font-size="7.45" text-anchor="end" stroke="#262626" stroke-width="0.15">80</text>
<rect x="29.8" y="335.70" width="2" height="0.5" fill="#262626" opacity="0.55"/><rect x="238.8" y="335.70" width="2" height="0.5" fill="#262626" opacity="0.55"/>
<text x="26.7" y="338.7" font-size="7.45" text-anchor="end" stroke="#262626" stroke-width="0.15">100</text>
<text x="135.3" y="455.7" font-size="8.3" text-anchor="middle" stroke="#262626" stroke-width="0.15">Doppler cell</text>
<text transform="translate(10.2,378.5) rotate(-90)" font-size="8.55" text-anchor="middle" stroke="#262626" stroke-width="0.15">Range cell</text>
<g fill="#f9fb15" filter="url(#b)"><rect x="86.5" y="386.4" width="2.1" height="3.3"/><rect x="86.2" y="389.9" width="2.1" height="3.3"/><rect x="100.0" y="389.6" width="2.1" height="3.3"/><rect x="102.8" y="389.6" width="2.1" height="3.3"/><rect x="111.0" y="392.4" width="2.1" height="3.3"/><rect x="119.1" y="390.7" width="1.6" height="2.6"/><rect x="120.4" y="393.2" width="1.6" height="2.6"/><rect x="124.4" y="393.5" width="2.1" height="3.3"/><rect x="127.9" y="392.5" width="2.1" height="3.3"/><rect x="126.5" y="398.3" width="1.6" height="2.6"/><rect x="123.6" y="400.7" width="1.6" height="2.6"/><rect x="113.4" y="402.8" width="1.6" height="2.6"/><rect x="88.0" y="406.1" width="2.1" height="3.3"/><rect x="110.4" y="410.2" width="1.0" height="1.0"/><rect x="127.0" y="411.2" width="1.6" height="2.6"/><rect x="118.3" y="413.0" width="1.6" height="2.6"/><rect x="106.0" y="417.0" width="2.1" height="3.3"/><rect x="110.0" y="417.1" width="2.1" height="3.3"/><rect x="113.2" y="418.2" width="2.1" height="3.3"/><rect x="118.5" y="417.1" width="2.1" height="3.3"/><rect x="143.6" y="389.5" width="2.1" height="3.3"/><rect x="149.1" y="392.4" width="2.1" height="3.3"/><rect x="157.3" y="388.2" width="2.1" height="3.3"/><rect x="161.6" y="391.5" width="2.1" height="3.3"/><rect x="186.2" y="393.3" width="1.0" height="1.0"/><rect x="181.5" y="396.4" width="1.0" height="1.0"/><rect x="160.1" y="399.8" width="1.6" height="2.6"/><rect x="157.8" y="406.1" width="2.1" height="3.3"/><rect x="162.8" y="405.2" width="2.1" height="3.3"/><rect x="165.0" y="406.8" width="1.6" height="2.6"/><rect x="134.7" y="406.3" width="1.6" height="2.6"/><rect x="133.3" y="408.2" width="2.1" height="3.3"/><rect x="137.6" y="411.4" width="2.1" height="3.3"/><rect x="160.9" y="412.5" width="1.0" height="1.0"/><rect x="170.4" y="414.2" width="1.6" height="2.6"/><rect x="169.5" y="417.9" width="2.1" height="3.3"/><rect x="88.3" y="404.5" width="2.0" height="18.200000000000003"/><rect x="90.3" y="392.6" width="0.8" height="0.8"/><rect x="89.6" y="395.7" width="0.8" height="0.8"/><rect x="89.7" y="357.9" width="0.8" height="0.8"/><rect x="135.1" y="360.0" width="0.8" height="0.8"/><rect x="134.8" y="376.6" width="1.4" height="3.0"/><rect x="134.9" y="384.5" width="1.2" height="2.0"/><rect x="134.7" y="391.3" width="0.8" height="0.8"/><rect x="134.0" y="393.4" width="2.2" height="3.2"/><rect x="134.6" y="397.8" width="1.0" height="1.5"/><rect x="134.7" y="400.2" width="0.8" height="1.0"/><rect x="134.6" y="404.2" width="1.0" height="1.5"/><rect x="134.7" y="415.1" width="1.6" height="2.0"/><rect x="134.1" y="420.9" width="1.6" height="2.0"/><rect x="183.6" y="399.2" width="1.2" height="3.0"/><rect x="183.2" y="405.7" width="1.5" height="2.0"/><rect x="182.9" y="409.2" width="1.8" height="13.099999999999994"/></g>
<g fill="none" stroke="#e2102c" stroke-width="0.6" opacity="0.9"><rect x="85.6" y="386.1" width="3.8" height="3.8"/><rect x="85.3" y="389.6" width="3.8" height="3.8"/><rect x="99.2" y="389.4" width="3.8" height="3.8"/><rect x="101.9" y="389.4" width="3.8" height="3.8"/><rect x="110.1" y="392.1" width="3.8" height="3.8"/><rect x="118.0" y="390.1" width="3.8" height="3.8"/><rect x="119.3" y="392.6" width="3.8" height="3.8"/><rect x="123.5" y="393.2" width="3.8" height="3.8"/><rect x="127.0" y="392.2" width="3.8" height="3.8"/><rect x="82.0" y="398.2" width="3.8" height="3.8"/><rect x="125.4" y="397.7" width="3.8" height="3.8"/><rect x="122.5" y="400.1" width="3.8" height="3.8"/><rect x="112.3" y="402.2" width="3.8" height="3.8"/><rect x="87.2" y="405.8" width="3.8" height="3.8"/><rect x="81.2" y="409.2" width="3.8" height="3.8"/><rect x="91.6" y="410.0" width="3.8" height="3.8"/><rect x="109.0" y="408.8" width="3.8" height="3.8"/><rect x="125.9" y="410.6" width="3.8" height="3.8"/><rect x="117.2" y="412.4" width="3.8" height="3.8"/><rect x="89.6" y="414.8" width="3.8" height="3.8"/><rect x="105.2" y="416.7" width="3.8" height="3.8"/><rect x="109.2" y="416.9" width="3.8" height="3.8"/><rect x="112.3" y="418.0" width="3.8" height="3.8"/><rect x="117.7" y="416.9" width="3.8" height="3.8"/><rect x="142.8" y="389.2" width="3.8" height="3.8"/><rect x="148.3" y="392.1" width="3.8" height="3.8"/><rect x="156.5" y="388.0" width="3.8" height="3.8"/><rect x="160.8" y="391.2" width="3.8" height="3.8"/><rect x="184.8" y="391.9" width="3.8" height="3.8"/><rect x="180.1" y="395.0" width="3.8" height="3.8"/><rect x="159.0" y="399.2" width="3.8" height="3.8"/><rect x="163.7" y="401.6" width="3.8" height="3.8"/><rect x="184.8" y="403.6" width="3.8" height="3.8"/><rect x="157.0" y="405.9" width="3.8" height="3.8"/><rect x="161.9" y="405.0" width="3.8" height="3.8"/><rect x="163.9" y="406.2" width="3.8" height="3.8"/><rect x="133.6" y="405.7" width="3.8" height="3.8"/><rect x="132.5" y="408.0" width="3.8" height="3.8"/><rect x="136.8" y="411.1" width="3.8" height="3.8"/><rect x="159.5" y="411.1" width="3.8" height="3.8"/><rect x="169.3" y="413.6" width="3.8" height="3.8"/><rect x="168.7" y="417.6" width="3.8" height="3.8"/><rect x="178.5" y="417.6" width="3.8" height="3.8"/><rect x="184.0" y="415.3" width="3.8" height="3.8"/></g>
<rect x="30.0" y="323.1" width="210.6" height="110.3" fill="none" stroke="#1a1050" stroke-width="0.4" opacity="0.6"/>
<rect x="64.8" y="330.1" width="169.6" height="10.9" fill="#fff" stroke="#4a4a6a" stroke-width="0.5"/>
<rect x="76.70" y="333.50" width="3.9" height="3.9" fill="none" stroke="#ff5a5a" stroke-width="1.0"/>
<text x="91.9" y="338.1" font-size="6.93" fill="#000" stroke="#000" stroke-width="0.1">The position of the targets in the RD spectrum</text>
</g>
<g>
<rect x="307.3" y="322.9" width="210.7" height="110.7" fill="#3e26a8"/>
<text x="412.6" y="320.6" font-size="8.42" text-anchor="middle" fill="#000" stroke="#000" stroke-width="0.2">(CA)CFAR| Detection rate: 0.71429, False alarm rate: 0.0061266</text>
<rect x="341.65" y="431.6" width="0.5" height="2" fill="#262626" opacity="0.55"/><rect x="341.65" y="322.9" width="0.5" height="2" fill="#262626" opacity="0.55"/>
<text x="341.9" y="444.6" font-size="7.45" text-anchor="middle" stroke="#262626" stroke-width="0.15">50</text>
<rect x="377.00" y="431.6" width="0.5" height="2" fill="#262626" opacity="0.55"/><rect x="377.00" y="322.9" width="0.5" height="2" fill="#262626" opacity="0.55"/>
<text x="377.3" y="444.6" font-size="7.45" text-anchor="middle" stroke="#262626" stroke-width="0.15">100</text>
<rect x="412.35" y="431.6" width="0.5" height="2" fill="#262626" opacity="0.55"/><rect x="412.35" y="322.9" width="0.5" height="2" fill="#262626" opacity="0.55"/>
<text x="412.6" y="444.6" font-size="7.45" text-anchor="middle" stroke="#262626" stroke-width="0.15">150</text>
<rect x="447.71" y="431.6" width="0.5" height="2" fill="#262626" opacity="0.55"/><rect x="447.71" y="322.9" width="0.5" height="2" fill="#262626" opacity="0.55"/>
<text x="448.0" y="444.6" font-size="7.45" text-anchor="middle" stroke="#262626" stroke-width="0.15">200</text>
<rect x="483.06" y="431.6" width="0.5" height="2" fill="#262626" opacity="0.55"/><rect x="483.06" y="322.9" width="0.5" height="2" fill="#262626" opacity="0.55"/>
<text x="483.3" y="444.6" font-size="7.45" text-anchor="middle" stroke="#262626" stroke-width="0.15">250</text>
<rect x="307.3" y="414.42" width="2" height="0.5" fill="#262626" opacity="0.55"/><rect x="516.0" y="414.42" width="2" height="0.5" fill="#262626" opacity="0.55"/>
<text x="304.2" y="417.4" font-size="7.45" text-anchor="end" stroke="#262626" stroke-width="0.15">20</text>
<rect x="307.3" y="394.74" width="2" height="0.5" fill="#262626" opacity="0.55"/><rect x="516.0" y="394.74" width="2" height="0.5" fill="#262626" opacity="0.55"/>
<text x="304.2" y="397.7" font-size="7.45" text-anchor="end" stroke="#262626" stroke-width="0.15">40</text>
<rect x="307.3" y="375.06" width="2" height="0.5" fill="#262626" opacity="0.55"/><rect x="516.0" y="375.06" width="2" height="0.5" fill="#262626" opacity="0.55"/>
<text x="304.2" y="378.0" font-size="7.45" text-anchor="end" stroke="#262626" stroke-width="0.15">60</text>
<rect x="307.3" y="355.38" width="2" height="0.5" fill="#262626" opacity="0.55"/><rect x="516.0" y="355.38" width="2" height="0.5" fill="#262626" opacity="0.55"/>
<text x="304.2" y="358.3" font-size="7.45" text-anchor="end" stroke="#262626" stroke-width="0.15">80</text>
<rect x="307.3" y="335.70" width="2" height="0.5" fill="#262626" opacity="0.55"/><rect x="516.0" y="335.70" width="2" height="0.5" fill="#262626" opacity="0.55"/>
<text x="304.2" y="338.7" font-size="7.45" text-anchor="end" stroke="#262626" stroke-width="0.15">100</text>
<text x="412.6" y="455.7" font-size="8.3" text-anchor="middle" stroke="#262626" stroke-width="0.15">Doppler cell</text>
<text transform="translate(287.7,378.5) rotate(-90)" font-size="8.55" text-anchor="middle" stroke="#262626" stroke-width="0.15">Range cell</text>
<g fill="#f9fb15" filter="url(#b)"><rect x="366.9" y="392.2" width="2.1" height="3.3"/><rect x="381.4" y="408.5" width="1.6" height="2.6"/><rect x="388.5" y="398.7" width="1.6" height="2.6"/><rect x="394.1" y="396.5" width="1.6" height="2.6"/><rect x="397.2" y="405.7" width="1.6" height="2.6"/><rect x="396.3" y="410.1" width="1.6" height="2.6"/><rect x="405.1" y="417.5" width="1.0" height="1.0"/><rect x="409.2" y="400.6" width="1.0" height="1.0"/><rect x="423.3" y="386.9" width="1.6" height="2.6"/><rect x="425.0" y="389.7" width="1.0" height="1.0"/><rect x="432.0" y="388.8" width="1.0" height="1.0"/><rect x="448.6" y="388.7" width="1.6" height="2.6"/><rect x="423.0" y="400.9" width="1.6" height="2.6"/><rect x="427.3" y="399.8" width="1.6" height="2.6"/><rect x="446.5" y="398.8" width="1.6" height="2.6"/><rect x="422.5" y="411.5" width="1.6" height="2.6"/><rect x="431.5" y="411.2" width="1.6" height="2.6"/><rect x="429.1" y="414.8" width="1.6" height="2.6"/><rect x="441.8" y="405.5" width="1.6" height="2.6"/><rect x="441.5" y="408.2" width="1.6" height="2.6"/><rect x="448.7" y="409.7" width="1.6" height="2.6"/><rect x="458.5" y="412.2" width="1.0" height="1.0"/><rect x="460.2" y="408.6" width="2.1" height="3.3"/><rect x="461.4" y="418.1" width="2.1" height="3.3"/><rect x="461.8" y="391.2" width="2.1" height="3.3"/><rect x="367.2" y="385.5" width="1.6" height="3.0"/><rect x="367.3" y="396.9" width="1.2" height="2.0"/><rect x="366.6" y="403.1" width="1.8" height="5.0"/><rect x="365.9" y="409.9" width="2.6" height="12.799999999999997"/><rect x="404.4" y="339.9" width="0.8" height="0.8"/><rect x="412.2" y="343.0" width="0.8" height="0.8"/><rect x="412.2" y="351.9" width="0.8" height="1.0"/><rect x="412.3" y="361.2" width="0.6" height="0.8"/><rect x="411.9" y="375.9" width="1.4" height="3.5"/><rect x="411.9" y="384.3" width="1.4" height="1.4"/><rect x="366.1" y="357.6" width="0.8" height="0.8"/><rect x="366.0" y="362.0" width="1.0" height="2.0"/><rect x="366.2" y="365.4" width="0.8" height="0.8"/><rect x="366.6" y="371.2" width="0.8" height="1.0"/><rect x="366.6" y="374.8" width="0.8" height="1.0"/><rect x="367.3" y="377.6" width="0.8" height="1.0"/><rect x="367.1" y="384.6" width="1.2" height="2.5"/><rect x="383.2" y="373.7" width="0.8" height="0.8"/><rect x="460.7" y="365.9" width="0.8" height="0.8"/><rect x="457.2" y="368.3" width="0.8" height="0.8"/><rect x="459.3" y="379.2" width="0.8" height="1.0"/><rect x="462.2" y="381.9" width="1.2" height="2.8"/><rect x="462.2" y="386.6" width="0.8" height="0.8"/><rect x="461.3" y="389.5" width="1.6" height="2.0"/><rect x="461.1" y="396.0" width="1.6" height="3.0"/><rect x="461.3" y="399.9" width="1.2" height="1.6"/><rect x="461.0" y="402.6" width="2.0" height="19.299999999999997"/><rect x="411.8" y="391.2" width="1.6" height="3.5"/><rect x="411.6" y="398.7" width="2.0" height="4.0"/><rect x="411.9" y="404.6" width="1.4" height="2.0"/><rect x="411.8" y="407.4" width="1.6" height="4.0"/><rect x="411.8" y="415.5" width="1.6" height="3.0"/><rect x="411.9" y="420.6" width="1.8" height="2.2"/><rect x="448.1" y="414.2" width="0.8" height="0.8"/><rect x="481.9" y="421.1" width="0.8" height="0.8"/><rect x="412.2" y="387.3" width="0.8" height="1.0"/><rect x="412.2" y="396.4" width="0.8" height="1.0"/><rect x="412.1" y="412.5" width="1.0" height="1.4"/><rect x="366.6" y="370.9" width="0.8" height="0.8"/><rect x="366.8" y="379.6" width="0.8" height="0.8"/><rect x="366.9" y="389.7" width="0.8" height="1.0"/><rect x="367.0" y="400.5" width="1.0" height="1.4"/><rect x="461.4" y="393.6" width="1.0" height="1.2"/></g>
<g fill="none" stroke="#e2102c" stroke-width="0.6" opacity="0.9"><rect x="357.9" y="395.3" width="3.8" height="3.8"/><rect x="366.1" y="392.0" width="3.8" height="3.8"/><rect x="371.9" y="405.1" width="3.8" height="3.8"/><rect x="380.3" y="407.9" width="3.8" height="3.8"/><rect x="374.8" y="416.9" width="3.8" height="3.8"/><rect x="387.4" y="398.1" width="3.8" height="3.8"/><rect x="393.0" y="395.9" width="3.8" height="3.8"/><rect x="403.7" y="389.4" width="3.8" height="3.8"/><rect x="396.1" y="405.1" width="3.8" height="3.8"/><rect x="395.2" y="409.5" width="3.8" height="3.8"/><rect x="394.8" y="412.0" width="3.8" height="3.8"/><rect x="403.7" y="416.1" width="3.8" height="3.8"/><rect x="407.8" y="399.2" width="3.8" height="3.8"/><rect x="422.2" y="386.3" width="3.8" height="3.8"/><rect x="423.6" y="388.3" width="3.8" height="3.8"/><rect x="430.6" y="387.4" width="3.8" height="3.8"/><rect x="447.5" y="388.1" width="3.8" height="3.8"/><rect x="417.3" y="398.1" width="3.8" height="3.8"/><rect x="421.9" y="400.3" width="3.8" height="3.8"/><rect x="426.2" y="399.2" width="3.8" height="3.8"/><rect x="445.4" y="398.2" width="3.8" height="3.8"/><rect x="416.2" y="407.3" width="3.8" height="3.8"/><rect x="421.4" y="410.9" width="3.8" height="3.8"/><rect x="430.4" y="410.6" width="3.8" height="3.8"/><rect x="428.0" y="414.2" width="3.8" height="3.8"/><rect x="440.7" y="404.9" width="3.8" height="3.8"/><rect x="440.4" y="407.6" width="3.8" height="3.8"/><rect x="447.6" y="409.1" width="3.8" height="3.8"/><rect x="452.4" y="405.9" width="3.8" height="3.8"/><rect x="457.1" y="410.8" width="3.8" height="3.8"/><rect x="459.4" y="408.4" width="3.8" height="3.8"/><rect x="455.1" y="417.8" width="3.8" height="3.8"/><rect x="460.6" y="417.9" width="3.8" height="3.8"/><rect x="463.1" y="417.9" width="3.8" height="3.8"/><rect x="460.9" y="391.0" width="3.8" height="3.8"/></g>
<rect x="307.5" y="323.1" width="210.3" height="110.3" fill="none" stroke="#1a1050" stroke-width="0.4" opacity="0.6"/>
<rect x="342.3" y="330.1" width="169.6" height="10.9" fill="#fff" stroke="#4a4a6a" stroke-width="0.5"/>
<rect x="354.20" y="333.50" width="3.9" height="3.9" fill="none" stroke="#ff5a5a" stroke-width="1.0"/>
<text x="369.4" y="338.1" font-size="6.93" fill="#000" stroke="#000" stroke-width="0.1">The position of the targets in the RD spectrum</text>
</g>
</svg></body></html>
